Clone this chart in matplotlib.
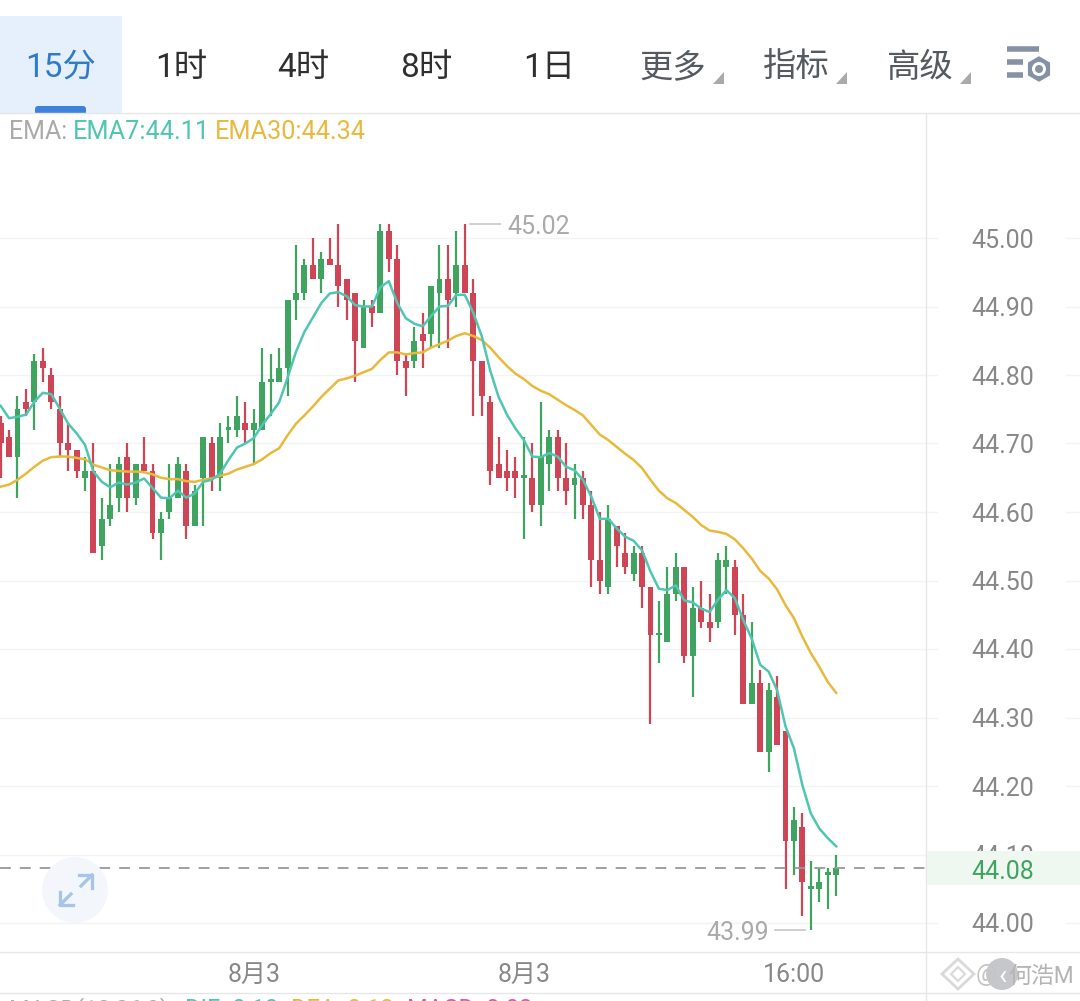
import matplotlib
matplotlib.use("Agg")
import matplotlib.pyplot as plt
from matplotlib.patches import Rectangle, Circle, Polygon, RegularPolygon, FancyBboxPatch

plt.rcParams['font.family'] = ['Roboto', 'Noto Sans CJK SC', 'DejaVu Sans']

open_ = [44.73,44.71,44.68,44.76,44.76,44.82,44.80,44.75,44.70,44.69,
         44.65,44.66,44.55,44.59,44.62,44.68,44.62,44.67,44.66,44.57,
         44.60,44.62,44.66,44.58,44.65,44.70,44.65,44.72,44.72,44.73,
         44.72,44.72,44.79,44.79,44.81,44.91,44.92,44.96,44.94,44.97,
         44.96,44.94,44.92,44.84,44.90,44.89,45.01,44.97,44.82,44.82,
         44.86,44.86,44.92,44.94,44.92,44.96,44.92,44.82,44.76,44.67,
         44.66,44.66,44.65,44.65,44.61,44.67,44.71,44.65,44.64,44.65,
         44.61,44.53,44.49,44.58,44.54,44.51,44.54,44.49,44.42,44.41,
         44.48,44.52,44.39,44.46,44.44,44.44,44.52,44.52,44.45,44.32,
         44.35,44.25,44.33,44.28,44.12,44.14,44.05,44.05,44.07,44.07]
high = [44.74,44.72,44.77,44.78,44.83,44.84,44.81,44.77,44.73,44.69,
        44.68,44.70,44.62,44.67,44.68,44.70,44.67,44.71,44.67,44.60,
        44.67,44.68,44.67,44.64,44.71,44.71,44.73,44.74,44.77,44.76,
        44.75,44.84,44.83,44.84,44.91,44.99,44.97,45.00,44.98,45.00,
        45.02,44.94,44.92,44.91,44.91,45.02,45.02,44.99,44.83,44.87,
        44.89,44.93,44.99,44.99,45.01,45.02,44.94,44.82,44.77,44.71,
        44.69,44.68,44.71,44.70,44.76,44.72,44.72,44.70,44.67,44.66,
        44.63,44.60,44.61,44.58,44.57,44.55,44.55,44.49,44.47,44.52,
        44.54,44.52,44.49,44.50,44.48,44.54,44.55,44.53,44.48,44.44,
        44.37,44.35,44.36,44.28,44.17,44.16,44.09,44.08,44.08,44.10]
low = [44.65,44.68,44.62,44.74,44.72,44.79,44.75,44.68,44.66,44.65,
       44.63,44.54,44.53,44.58,44.60,44.60,44.61,44.66,44.56,44.53,
       44.59,44.62,44.56,44.58,44.58,44.63,44.63,44.70,44.71,44.70,
       44.67,44.72,44.74,44.79,44.77,44.88,44.91,44.94,44.92,44.96,
       44.90,44.88,44.79,44.84,44.87,44.89,44.95,44.80,44.77,44.81,
       44.81,44.84,44.84,44.84,44.90,44.92,44.74,44.74,44.64,44.65,
       44.63,44.62,44.56,44.60,44.58,44.63,44.63,44.61,44.59,44.59,
       44.49,44.48,44.48,44.52,44.51,44.50,44.46,44.29,44.38,44.41,
       44.47,44.38,44.33,44.43,44.41,44.43,44.48,44.42,44.32,44.32,
       44.25,44.22,44.26,44.05,44.07,44.01,43.99,44.03,44.02,44.04]
close = [44.70,44.68,44.75,44.75,44.82,44.81,44.76,44.70,44.69,44.66,
         44.66,44.54,44.59,44.61,44.67,44.62,44.67,44.66,44.57,44.59,
         44.62,44.67,44.58,44.63,44.71,44.65,44.71,44.72,44.74,44.72,
         44.73,44.79,44.79,44.81,44.91,44.92,44.96,44.94,44.97,44.96,
         44.93,44.91,44.85,44.90,44.89,45.01,44.97,44.82,44.81,44.85,
         44.85,44.93,44.94,44.91,44.96,44.92,44.82,44.77,44.66,44.65,
         44.65,44.65,44.65,44.61,44.68,44.71,44.65,44.63,44.65,44.61,
         44.53,44.50,44.59,44.55,44.52,44.54,44.49,44.42,44.42,44.48,
         44.52,44.39,44.46,44.44,44.43,44.53,44.53,44.45,44.32,44.35,
         44.25,44.34,44.26,44.12,44.15,44.06,44.05,44.06,44.07,44.08]
ema7 = [44.755,44.737,44.739,44.742,44.761,44.774,44.772,44.751,44.729,44.715,
        44.698,44.659,44.644,44.636,44.643,44.640,44.643,44.649,44.635,44.621,
        44.620,44.631,44.621,44.627,44.644,44.647,44.656,44.676,44.694,44.700,
        44.708,44.727,44.743,44.760,44.796,44.834,44.863,44.884,44.905,44.919,
        44.921,44.915,44.902,44.900,44.900,44.928,44.937,44.905,44.883,44.875,
        44.871,44.886,44.900,44.901,44.917,44.917,44.891,44.857,44.807,44.768,
        44.742,44.722,44.705,44.681,44.680,44.686,44.681,44.666,44.661,44.647,
        44.622,44.590,44.590,44.576,44.564,44.558,44.544,44.513,44.488,44.486,
        44.493,44.471,44.468,44.459,44.454,44.472,44.486,44.474,44.442,44.415,
        44.377,44.367,44.340,44.287,44.255,44.201,44.160,44.138,44.124,44.112]
ema30 = [44.637,44.640,44.647,44.656,44.666,44.675,44.680,44.681,44.681,44.679,
         44.677,44.669,44.665,44.661,44.660,44.659,44.659,44.658,44.655,44.650,
         44.648,44.648,44.645,44.644,44.647,44.649,44.653,44.656,44.662,44.666,
         44.670,44.677,44.686,44.693,44.712,44.729,44.741,44.754,44.768,44.780,
         44.792,44.795,44.799,44.804,44.809,44.822,44.833,44.833,44.830,44.832,
         44.833,44.840,44.845,44.850,44.857,44.861,44.857,44.851,44.840,44.826,
         44.813,44.802,44.794,44.784,44.777,44.772,44.764,44.756,44.749,44.741,
         44.727,44.713,44.705,44.695,44.685,44.676,44.664,44.647,44.631,44.620,
         44.613,44.603,44.593,44.581,44.573,44.571,44.568,44.560,44.547,44.532,
         44.514,44.503,44.487,44.464,44.445,44.418,44.394,44.374,44.352,44.336]
y_ticks = [44.00,44.10,44.20,44.30,44.40,44.50,44.60,44.70,44.80,44.90,45.00]
x_tick_pos = [30,62,94]
x_tick_labels = ['8月3','8月3','16:00']
tabs = ['1时','4时','8时','1日','更多','指标','高级']
last_price = 44.08
max_price = 45.02
min_price = 43.99

W, H = 1080, 1001
GREEN, RED = '#3FA45F', '#CE4656'
TEAL, GOLD = '#4FC6B2', '#E8B93C'
GRID = '#F3F3F3'
LINE = '#E6E6E6'

fig = plt.figure(figsize=(W/100, H/100), dpi=100, facecolor='white')

def px_axes(x0, y0, x1, y1, **kw):
    return fig.add_axes([x0/W, 1-y1/H, (x1-x0)/W, (y1-y0)/H], **kw)

# ---- price chart
ax = px_axes(0, 113, 926, 952)
STEP = 8.44
X0 = 0.6
ax.set_xlim((0-X0)/STEP, (926-X0)/STEP)
ax.set_ylim(44-29/685, 45+125/685)
for s in ax.spines.values():
    s.set_visible(False)
ax.set_yticks(y_ticks)
ax.set_yticklabels(['%.2f' % v for v in y_ticks], fontsize=18, color='#888888', ha='left')
ax.yaxis.tick_right()
ax.tick_params(axis='y', length=0, pad=33)
ax.set_xticks(x_tick_pos)
ax.set_xticklabels(x_tick_labels, fontsize=18, color='#888888')
ax.tick_params(axis='x', length=0, pad=8)
ax.grid(axis='y', color=GRID, lw=1)
ax.grid(axis='x', visible=False)
ax.set_axisbelow(True)

idx = list(range(len(close)))
colors = [GREEN if c >= o else RED for o, c in zip(open_, close)]
ax.vlines(idx, low, high, colors=colors, lw=1.6, zorder=2)
bottoms = [min(o, c) for o, c in zip(open_, close)]
heights = [max(abs(c-o), 0.004) for o, c in zip(open_, close)]
ax.bar(idx, heights, bottom=bottoms, width=0.7, color=colors, lw=0, zorder=3)
ax.plot(idx, ema30, color=GOLD, lw=1.8, zorder=4)
ax.plot(idx, ema7, color=TEAL, lw=1.8, zorder=5)
ax.axhline(last_price, color='#999999', lw=1.3, dashes=(6, 5), zorder=6)

imax = len(high) - 1 - high[::-1].index(max_price)
imin = low.index(min_price)
ax.annotate('%.2f' % max_price, xy=(imax+0.65, max_price), xytext=(37, -3), textcoords='offset pixels',
            fontsize=18, color='#AAAAAA', va='center')
ax.annotate('%.2f' % min_price, xy=(imin-0.65, min_price), xytext=(-36, -3), textcoords='offset pixels', ha='right',
            fontsize=18, color='#AAAAAA', va='center')
ax.plot([imax+0.65, imax+4.2], [max_price, max_price], color='#CCCCCC', lw=1.3, zorder=6)
ax.plot([imin-0.65, imin-4.2], [min_price, min_price], color='#CCCCCC', lw=1.3, zorder=6)

# ---- interface overlay in pixel coordinates
ui = px_axes(0, 0, W, H, zorder=5)
ui.set_xlim(0, W)
ui.set_ylim(H, 0)
ui.axis('off')
ui.patch.set_alpha(0)

ui.add_patch(Rectangle((0, 16), 122, 97, fc='#E6F0FC', ec='none'))
ui.add_patch(FancyBboxPatch((35, 106), 51, 9, boxstyle='round,pad=0,rounding_size=3', fc='#3C82DC', ec='none'))
ui.add_patch(Rectangle((0, 113), 122, 4, fc='white', ec='none'))
ui.text(61, 68, '15分', fontsize=24, color='#2F7BCB', ha='center', va='center')
for t, x, c in zip(tabs, [181,303,426,549,673,796,919], ['#2F2F2F']*4+['#555A60']*3):
    ui.text(x, 68, t, fontsize=24, color=c, ha='center', va='center')
for x in [724, 847, 971]:
    ui.add_patch(Polygon([(x, 72), (x, 84), (x-11, 84)], fc='#AAAAAA', ec='none'))

ICON = '#8592A6'
for (x0, x1, y) in [(1007,1039,49),(1007,1023,62),(1007,1023,75)]:
    ui.plot([x0, x1], [y, y], color=ICON, lw=4, solid_capstyle='butt')
ui.add_patch(RegularPolygon((1039, 69), 6, radius=14, fc=ICON, ec='white', lw=1.5, zorder=4))
ui.add_patch(Circle((1039, 69), 7, fc='white', ec='none', zorder=5))
ui.add_patch(Circle((1039, 69), 4, fc=ICON, ec='none', zorder=6))

ui.plot([0, W], [113, 113], color=LINE, lw=1)
ui.plot([0, W], [952, 952], color=LINE, lw=1)
ui.plot([0, W], [993, 993], color=LINE, lw=1)
ui.plot([926, 926], [113, H], color=LINE, lw=1)

ui.text(9, 132, 'EMA:', fontsize=18, color='#AAAAAA', va='center')
ui.text(73, 132, 'EMA7:44.11', fontsize=18.2, color=TEAL, va='center')
ui.text(215, 132, 'EMA30:44.34', fontsize=18.2, color=GOLD, va='center')

for v in y_ticks:
    y = 238 + (45 - v)*685
    ui.plot([927, 937], [y, y], color=GRID, lw=1)
    ui.plot([1066, 1080], [y, y], color=GRID, lw=1)

ui.add_patch(Rectangle((927, 851), 153, 34, fc='#EFF7F1', ec='none', zorder=3))
ui.text(1003, 872, '%.2f' % last_price, fontsize=18, color='#3FA45F', ha='center', va='center', zorder=4)

# zoom button
ui.add_patch(Circle((75, 890), 33, fc='#F3F7FC', ec='none', zorder=2))
ABLUE = '#A7C5E6'
for pts in [[(79, 875), (92, 875), (92, 888)], [(81, 886), (92, 875)],
            [(60, 892), (60, 905), (73, 905)], [(71, 894), (60, 905)]]:
    ui.plot(*zip(*pts), color=ABLUE, lw=2.4, zorder=3)

# cropped indicator line at the very bottom
for x, t, c in [(9, 'MACD(12,26,9)', '#AAAAAA'), (185, 'DIF:-0.13', TEAL),
                (291, 'DEA:-0.12', GOLD), (407, 'MACD:-0.02', '#D65BA6')]:
    ui.text(x, 1010, t, fontsize=17, color=c, va='center', clip_on=True)

# watermark
ui.add_patch(Polygon([(958, 959), (974, 974), (958, 989), (942, 974)], fc='none', ec='#D9D9D9', lw=2, zorder=7))
ui.add_patch(Polygon([(958, 967), (965, 974), (958, 981), (951, 974)], fc='none', ec='#D9D9D9', lw=1.5, zorder=7))
ui.add_patch(Circle((1002, 974), 16, fc='#C6C7CB', ec='none', zorder=7))
ui.text(986, 975, '@', fontsize=17, color='#C4C4C4', ha='center', va='center', zorder=8)
ui.text(1003, 976, '‹', fontsize=20, color='white', ha='center', va='center', zorder=8)
ui.text(1008, 976, '何浩M', fontsize=16.5, color='#B4B4B4', va='center', zorder=8)

fig.savefig('out.png', dpi=100, facecolor='white')
